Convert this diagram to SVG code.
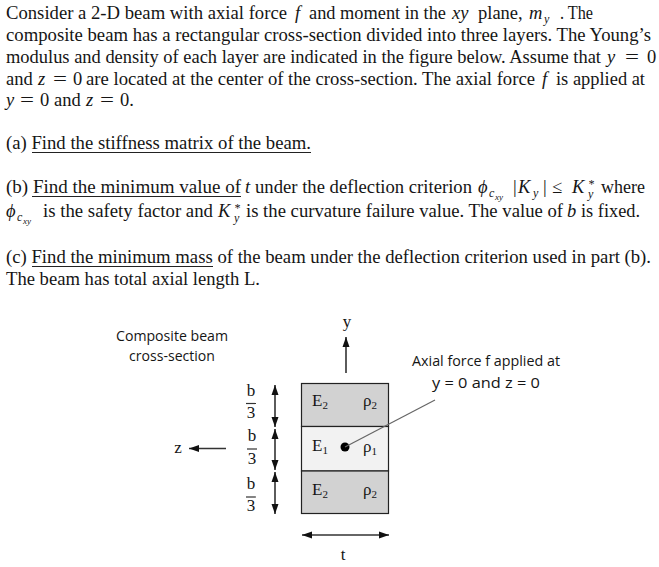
<svg xmlns="http://www.w3.org/2000/svg" width="659" height="567" viewBox="0 0 659 567">
<defs>
<marker id="ah" markerWidth="11" markerHeight="8" refX="10" refY="4" orient="auto-start-reverse" markerUnits="userSpaceOnUse"><path d="M0,0.500L10,4L0,7.500Z" fill="#111"/></marker>
</defs>
<style>
text{fill:#151515}
.t{font-family:"Liberation Serif",serif;font-size:18.500px}
.i{font-family:"Liberation Serif",serif;font-size:18.500px;font-style:italic}
.s{font-family:"Liberation Serif",serif;font-size:12px;font-style:italic}
.ss{font-family:"Liberation Serif",serif;font-size:9px;font-style:italic}
.c{font-family:"Open Sans","Noto Sans",sans-serif;font-size:14px}
.f{font-family:"Liberation Serif",serif;font-size:17px}
.u{stroke:#222;stroke-width:1;fill:none}
.a{stroke:#333;stroke-width:1.6;fill:none}
.b{stroke:#333;stroke-width:1.2}
</style>
<rect width="659" height="567" fill="#fff"/>
<g id="problem-text">
<text class="t" x="6" y="19" textLength="281" lengthAdjust="spacingAndGlyphs">Consider a 2-D beam with axial force</text>
<text class="i" x="295" y="19">f</text>
<text class="t" x="309" y="19" textLength="137" lengthAdjust="spacingAndGlyphs">and moment in the</text>
<text class="i" x="452" y="19">xy</text>
<text class="t" x="478" y="19">plane,</text>
<text class="i" x="529" y="19">m</text><text class="s" x="544" y="23">y</text>
<text class="t" x="560" y="19" textLength="33" lengthAdjust="spacingAndGlyphs">. The</text>
<text class="t" x="6" y="41" textLength="645" lengthAdjust="spacingAndGlyphs">composite beam has a rectangular cross-section divided into three layers. The Young’s</text>
<text class="t" x="6" y="63" textLength="595" lengthAdjust="spacingAndGlyphs">modulus and density of each layer are indicated in the figure below. Assume that</text>
<text class="i" x="607" y="63">y</text><text class="t" x="625" y="63" textLength="14" lengthAdjust="spacingAndGlyphs">=</text><text class="t" x="647" y="63">0</text>
<text class="t" x="6" y="85">and</text>
<text class="i" x="38" y="85">z</text><text class="t" x="53" y="85" textLength="14" lengthAdjust="spacingAndGlyphs">=</text><text class="t" x="73" y="85">0</text>
<text class="t" x="86" y="85" textLength="449" lengthAdjust="spacingAndGlyphs">are located at the center of the cross-section. The axial force</text>
<text class="i" x="542" y="85">f</text>
<text class="t" x="556" y="85" textLength="89" lengthAdjust="spacingAndGlyphs">is applied at</text>
<text class="i" x="6" y="106">y</text><text class="t" x="20" y="106" textLength="14" lengthAdjust="spacingAndGlyphs">=</text><text class="t" x="40" y="106">0</text><text class="t" x="54" y="106">and</text>
<text class="i" x="86" y="106">z</text><text class="t" x="100" y="106" textLength="14" lengthAdjust="spacingAndGlyphs">=</text><text class="t" x="120" y="106">0.</text>

<text class="t" x="6" y="149" textLength="305" lengthAdjust="spacingAndGlyphs">(a) Find the stiffness matrix of the beam.</text>
<text class="t" x="6" y="193" textLength="235" lengthAdjust="spacingAndGlyphs">(b) Find the minimum value of</text>
<text class="i" x="245" y="193">t</text>
<text class="t" x="255" y="193" textLength="217" lengthAdjust="spacingAndGlyphs">under the deflection criterion</text>
<text class="i" x="478" y="193">ϕ</text><text class="s" x="489" y="197">c</text><text class="ss" x="495" y="200">xy</text>
<text class="t" x="513" y="193">|</text><text class="i" x="518" y="193">K</text><text class="s" x="533" y="197">y</text><text class="t" x="543" y="193">|</text>
<text class="t" x="552" y="193">≤</text>
<text class="i" x="572" y="193">K</text><text class="s" x="588" y="188">*</text><text class="s" x="588" y="198">y</text>
<text class="t" x="601" y="193" textLength="44" lengthAdjust="spacingAndGlyphs">where</text>
<text class="i" x="6" y="217">ϕ</text><text class="s" x="17" y="221">c</text><text class="ss" x="23" y="224">xy</text>
<text class="t" x="43" y="217" textLength="170" lengthAdjust="spacingAndGlyphs">is the safety factor and</text>
<text class="i" x="218" y="217">K</text><text class="s" x="234" y="212">*</text><text class="s" x="234" y="222">y</text>
<text class="t" x="246" y="217" textLength="317" lengthAdjust="spacingAndGlyphs">is the curvature failure value. The value of</text>
<text class="i" x="567" y="217">b</text>
<text class="t" x="581" y="217" textLength="59" lengthAdjust="spacingAndGlyphs">is fixed.</text>
<text class="t" x="6" y="263" textLength="645" lengthAdjust="spacingAndGlyphs">(c) Find the minimum mass of the beam under the deflection criterion used in part (b).</text>
<text class="t" x="6" y="285" textLength="254" lengthAdjust="spacingAndGlyphs">The beam has total axial length L.</text>
<path class="u" d="M32 152.500H311M32 196.500H241M32 266.500H213"/>
</g>

<g id="caption-left">
<text class="c" x="172" y="341" text-anchor="middle" textLength="112" lengthAdjust="spacingAndGlyphs">Composite beam</text>
<text class="c" x="172" y="361" text-anchor="middle" textLength="86" lengthAdjust="spacingAndGlyphs">cross-section</text>
</g>
<g id="caption-right">
<text class="c" x="486" y="366" text-anchor="middle" textLength="148" lengthAdjust="spacingAndGlyphs">Axial force f applied at</text>
<text class="c" x="486" y="388" text-anchor="middle" textLength="108" lengthAdjust="spacingAndGlyphs">y = 0 and z = 0</text>
</g>

<g id="layer-top"><rect x="301.500" y="383.500" width="87" height="43" fill="#d2d2d2" stroke="#222" stroke-width="1.2"/>
<text class="f" x="312" y="406">E<tspan font-size="11" dy="3">2</tspan></text>
<text class="f" x="363" y="406">ρ<tspan font-size="11" dy="3">2</tspan></text></g>
<g id="layer-middle"><rect x="301.500" y="426.500" width="87" height="44.500" fill="#f2f2f2" stroke="#222" stroke-width="1.2"/>
<text class="f" x="312" y="451">E<tspan font-size="11" dy="3">1</tspan></text>
<text class="f" x="363" y="452">ρ<tspan font-size="11" dy="3">1</tspan></text></g>
<g id="layer-bottom"><rect x="301.500" y="471" width="87" height="42.500" fill="#d2d2d2" stroke="#222" stroke-width="1.2"/>
<text class="f" x="312" y="495">E<tspan font-size="11" dy="3">2</tspan></text>
<text class="f" x="363" y="495">ρ<tspan font-size="11" dy="3">2</tspan></text></g>
<g id="force-point"><circle cx="345" cy="447" r="4.500" fill="#000"/></g>

<g id="axis-labels">
<text class="f" x="347" y="327" text-anchor="middle">y</text>
<text class="f" x="178" y="453" text-anchor="middle">z</text>
<text class="f" x="343" y="560" text-anchor="middle">t</text>
</g>
<g id="dimension-labels">
<text class="f" x="251" y="396" text-anchor="middle">b</text><path class="b" d="M246 403.500H256"/><text class="f" x="251" y="418" text-anchor="middle">3</text>
<text class="f" x="252" y="441" text-anchor="middle">b</text><path class="b" d="M247 449H257"/><text class="f" x="252" y="464" text-anchor="middle">3</text>
<text class="f" x="251" y="489" text-anchor="middle">b</text><path class="b" d="M246 497H256"/><text class="f" x="251" y="511" text-anchor="middle">3</text>
</g>

<g id="connectors">
<path class="a" d="M346 373V337" marker-end="url(#ah)"/>
<path class="a" d="M226 448.500H189" marker-end="url(#ah)"/>
<path class="a" d="M275 385V427" marker-start="url(#ah)" marker-end="url(#ah)"/>
<path class="a" d="M275 429V470" marker-start="url(#ah)" marker-end="url(#ah)"/>
<path class="a" d="M275 472V514" marker-start="url(#ah)" marker-end="url(#ah)"/>
<path class="a" d="M302 535H389" marker-start="url(#ah)" marker-end="url(#ah)"/>
<path d="M435 400L345 447" stroke="#666" stroke-width="1.200" fill="none"/>
</g>
</svg>
